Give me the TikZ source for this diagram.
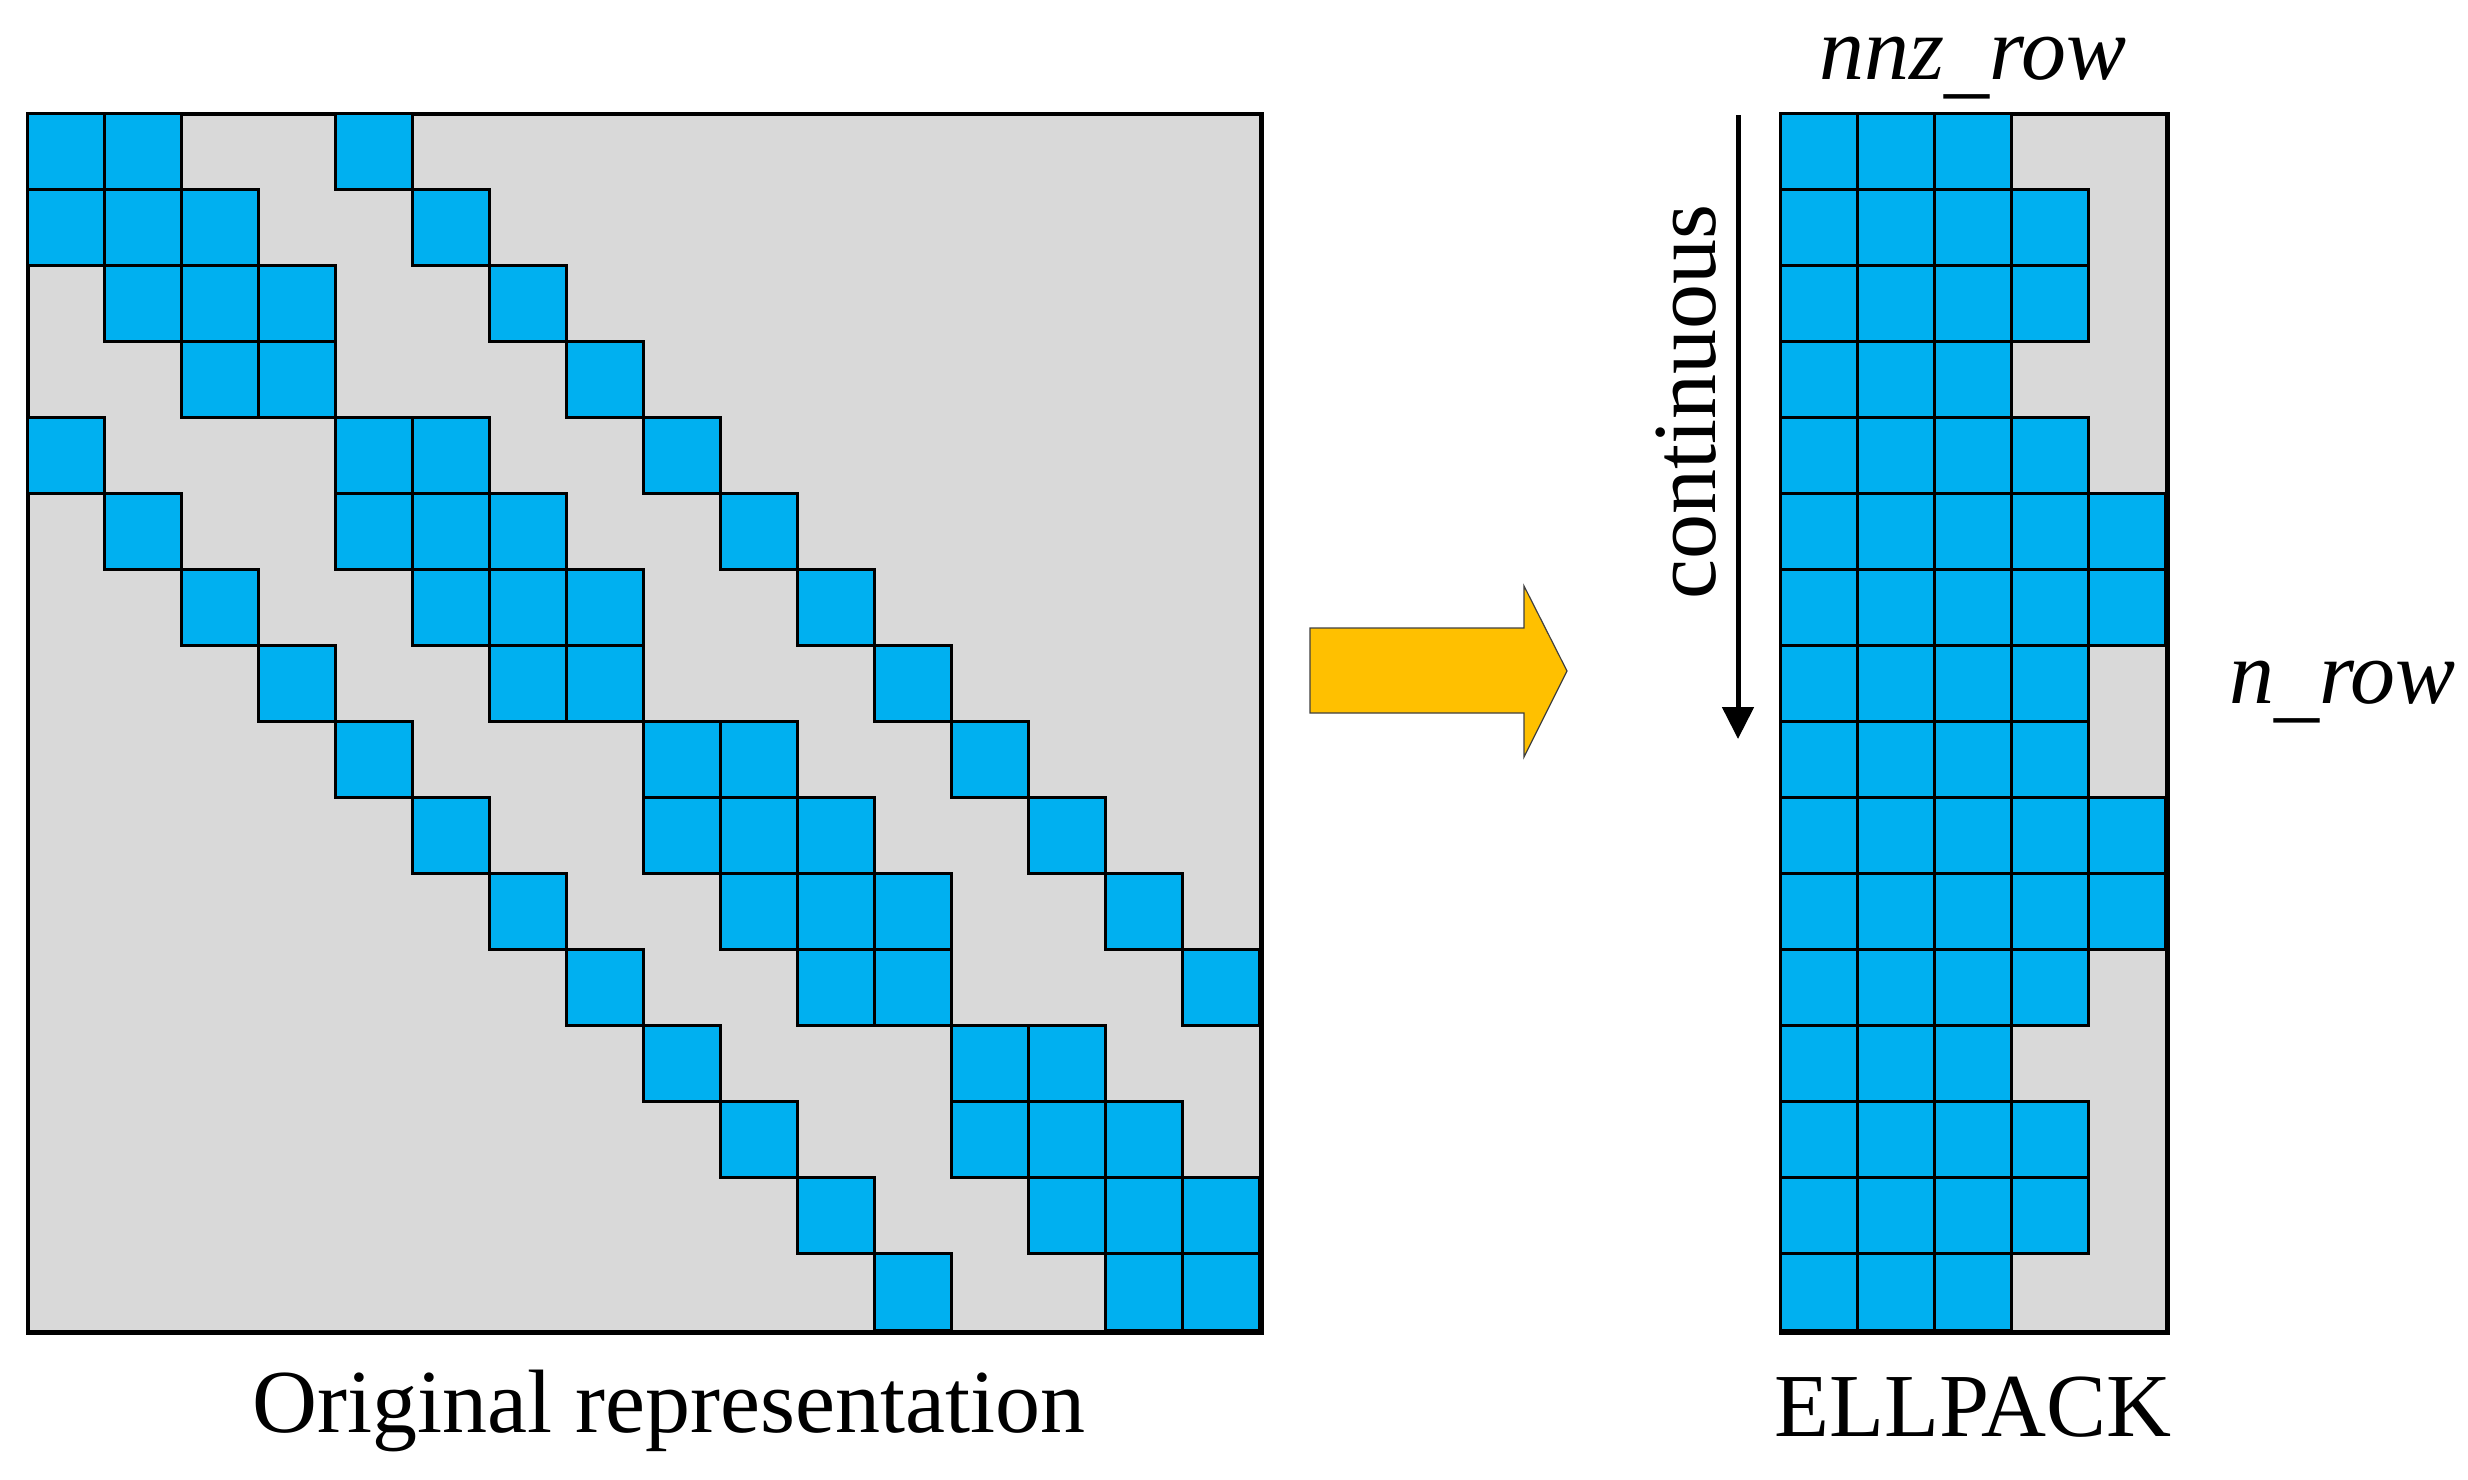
\documentclass[tikz,border=0pt]{standalone}
\usepackage{fontspec}
\setmainfont{Liberation Serif}
\usetikzlibrary{arrows.meta}
\definecolor{cblue}{HTML}{00B0F0}
\definecolor{cgray}{HTML}{D9D9D9}
\definecolor{cyellow}{HTML}{FFC000}
\newcommand{\lowus}{\raisebox{-8pt}{\_}}
\begin{document}
\begin{tikzpicture}[x=1pt,y=-1pt,
  cellb/.style={fill=cblue,draw=black,line width=3pt},
  matbox/.style={draw=black,fill=cgray,line width=3pt,inner sep=0pt,anchor=north west,minimum height=1217pt},
  lbl/.style={font=\fontsize{90}{100}\selectfont,inner sep=0pt},
  ilbl/.style={font=\fontsize{90}{100}\selectfont\itshape,inner sep=0pt}]
\useasboundingbox (0,0) rectangle (2468,1480);
% original matrix
\node[matbox,minimum width=1232pt] (orig) at (27,113) {};
\foreach \r/\cl in {0/{0,1,4},1/{0,1,2,5},2/{1,2,3,6},3/{2,3,7},
  4/{0,4,5,8},5/{1,4,5,6,9},6/{2,5,6,7,10},7/{3,6,7,11},
  8/{4,8,9,12},9/{5,8,9,10,13},10/{6,9,10,11,14},11/{7,10,11,15},
  12/{8,12,13},13/{9,12,13,14},14/{10,13,14,15},15/{11,14,15}}
  {\foreach \c in \cl
    {\draw[cellb] ({27+77*\c},{113+76.0625*\r}) rectangle +(77,76.0625);}}
\draw[line width=3pt] (orig.north west) rectangle (orig.south east);
% ELLPACK matrix
\node[matbox,minimum width=385pt] (ell) at (1780,113) {};
\foreach \r/\n in {0/3,1/4,2/4,3/3,4/4,5/5,6/5,7/4,8/4,9/5,10/5,11/4,12/3,13/4,14/4,15/3}
  {\foreach \c in {1,...,\n}
    {\draw[cellb] ({1780+77*(\c-1)},{113+76.0625*\r}) rectangle +(77,76.0625);}}
\draw[line width=3pt] (ell.north west) rectangle (ell.south east);
% yellow arrow
\draw[fill=cyellow,draw=black!75,line width=1.2pt]
  (1310,628) -- (1524,628) -- (1524,586) -- (1567,671) -- (1524,757) -- (1524,713) -- (1310,713) -- cycle;
% continuous arrow
\coordinate (cs) at (1738,115);
\coordinate (ce) at (1738,739);
\draw[line width=5pt,-{Triangle[width=31pt,length=32pt]}] (cs) -- (ce);
\node[lbl,anchor=base,rotate=90] (cont) at (1715,402) {continuous};
% labels
\node[ilbl,anchor=base] (nnz) at (1973,80) {nnz\lowus row};
\node[ilbl,anchor=base west] (nrow) at (2229,703) {n\lowus row};
\node[lbl,anchor=base] (origlbl) at (669,1432) {Original representation};
\node[lbl,anchor=base] (elllbl) at (1973,1436) {ELLPACK};
\end{tikzpicture}
\end{document}
